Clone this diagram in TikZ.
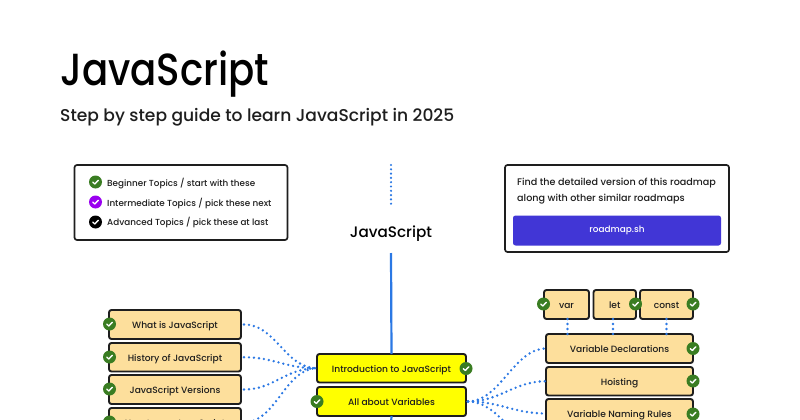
\documentclass[tikz,border=0pt]{standalone}
\usepackage{fontspec}
\setmainfont{Poppins Medium}
\newfontfamily\titlefont[FakeStretch=0.86]{Poppins Medium}
\definecolor{ink}{HTML}{1E1E1E}
\definecolor{peach}{HTML}{FDDF9C}
\definecolor{hilite}{HTML}{FFFF00}
\definecolor{link}{HTML}{2B78E4}
\definecolor{beg}{HTML}{3A7D22}
\definecolor{mid}{HTML}{9A00F0}
\definecolor{btn}{HTML}{4136D6}
\newcommand{\tick}[3]{%
  \node[tickdot,fill=#2] (#1) at (#3) {};
  \draw[tickmark] ([shift={(-2.6,0.2)}]#1.center) -- ([shift={(-0.7,2)}]#1.center) -- ([shift={(2.8,-1.7)}]#1.center);
}
\tikzset{
  tickdot/.style={circle,draw=none,minimum size=13pt,inner sep=0pt},
  tickmark/.style={white,line width=1.4pt,line cap=round,line join=round},
  topic/.style={draw=ink,line width=1.9pt,rounded corners=2.5pt,fill=peach,inner sep=0pt,outer sep=0pt,anchor=north west,font=\fontsize{9.1}{12}\selectfont,text=ink,text height=10pt,text depth=2pt},
  main/.style={topic,fill=hilite},
  panel/.style={draw=ink,line width=1.7pt,rounded corners=2.5pt,fill=white,inner sep=0pt,outer sep=0pt,anchor=north west},
  note/.style={inner sep=0pt,anchor=west,font=\fontsize{8.8}{12}\selectfont,text=ink},
  wide/.style={note,font=\fontsize{9.6}{12}\selectfont},
  dots/.style={draw=link,line width=2.6pt,line cap=round,dash pattern=on 0pt off 5pt},
  solidlink/.style={draw=link,line width=2.2pt},
}
\begin{document}
\begin{tikzpicture}[x=1pt,y=-1pt]
\useasboundingbox (0,0) rectangle (800,420);
\clip (0,0) rectangle (800,420);
\fill[white] (0,0) rectangle (800,420);

\node[inner sep=0pt,anchor=base west,font=\titlefont\fontsize{45}{48}\selectfont,text=black] (title) at (60,85) {JavaScript};
\node[inner sep=0pt,anchor=base west,font=\fontsize{17.1}{20}\selectfont,text=ink] (subtitle) at (60,121) {Step by step guide to learn JavaScript in 2025};

% legend
\node[panel,minimum width=213pt,minimum height=75pt] (legend) at (74.5,165) {};
\node[note] (l1) at (107,183.5) {Beginner Topics / start with these};
\node[note] (l2) at (107,203) {Intermediate Topics / pick these next};
\node[note] (l3) at (107,222.5) {Advanced Topics / pick these at last};
\tick{t1}{beg}{95.5,182}
\tick{t2}{mid}{95.5,202}
\tick{t3}{black}{95.5,222}

% info panel
\node[panel,minimum width=224pt,minimum height=87pt] (info) at (505,165) {};
\node[wide] (i1) at (517,183.5) {Find the detailed version of this roadmap};
\node[wide] (i2) at (517,199) {along with other similar roadmaps};
\node[fill=btn,rounded corners=2.5pt,minimum width=208pt,minimum height=30pt,inner sep=0pt,outer sep=0pt,anchor=north west,text=white,font=\fontsize{8.9}{12}\selectfont] (site) at (513,215.5) {roadmap.sh};

% spine
\coordinate (dtop) at (391,165);
\node[inner sep=0pt,font=\fontsize{15.2}{20}\selectfont,text=black] (root) at (391,233.5) {JavaScript};
\coordinate (dbot) at (391,205);
\coordinate (sbot) at (391,425);
\draw[draw=link,line width=2.4pt,line cap=round,dash pattern=on 0pt off 4.3pt] (dtop) -- (dbot);

% centre
\node[main,minimum width=149pt,minimum height=28.5pt] (intro) at (317,354) {Introduction to JavaScript};
\node[main,minimum width=149pt,minimum height=29pt] (vars) at (317,387) {All about Variables};
\draw[solidlink] (391,253) -- (intro.north);
\draw[solidlink] (vars.south) -- (sbot);

% left column
\node[topic,minimum width=132pt,minimum height=29pt] (what) at (109,310) {What is JavaScript};
\node[topic,minimum width=132pt,minimum height=28.5pt] (hist) at (109,343) {History of JavaScript};
\node[topic,minimum width=132pt,minimum height=29pt] (vers) at (109,375) {JavaScript Versions};
\node[topic,minimum width=132pt,minimum height=29pt] (run) at (109,408) {How to run JavaScript};

% right column
\node[topic,minimum width=45pt,minimum height=29pt] (var) at (544,290) {var};
\node[topic,minimum width=42.5pt,minimum height=29pt] (let) at (593.5,290) {let};
\node[topic,minimum width=53pt,minimum height=29pt] (const) at (640,290) {const};
\node[topic,minimum width=147pt,minimum height=29pt] (decl) at (546,334) {Variable Declarations};
\node[topic,minimum width=147pt,minimum height=28.5pt] (hoist) at (546,367) {Hoisting};
\node[topic,minimum width=147pt,minimum height=29pt] (naming) at (546,399) {Variable Naming Rules};
\coordinate (scopes) at (546,447);

% connectors
\draw[dots] ([xshift=3pt]what.east) .. controls +(32,0) and +(-32,0) .. (intro.west);
\draw[dots] ([xshift=3pt]hist.east) .. controls +(30,0) and +(-32,0) .. (intro.west);
\draw[dots] ([xshift=3pt]vers.east) .. controls +(30,0) and +(-32,0) .. (intro.west);
\draw[dots] ([xshift=3pt]run.east) .. controls +(32,0) and +(-32,0) .. (intro.west);
\draw[dots] ([xshift=2pt]vars.east) .. controls +(32,0) and +(-32,0) .. (decl.west);
\draw[dots] ([xshift=2pt]vars.east) .. controls +(32,0) and +(-32,0) .. (hoist.west);
\draw[dots] ([xshift=2pt]vars.east) .. controls +(32,0) and +(-32,0) .. (naming.west);
\draw[dots] ([xshift=2pt]vars.east) .. controls +(32,0) and +(-32,0) .. (scopes);
\draw[dots] (var.south -| 567.5,0) -- (567.5,334);
\draw[dots] (let.south -| 613,0) -- (613,334);
\draw[dots] (const.south -| 666.5,0) -- (666.5,334);

% checks
\tick{c1}{beg}{109.5,324}
\tick{c2}{beg}{109.5,357}
\tick{c3}{beg}{109.5,389}
\tick{c4}{beg}{109.5,422}
\tick{c5}{beg}{466,368.5}
\tick{c6}{beg}{317,401.5}
\tick{c7}{beg}{543.5,304}
\tick{c8}{beg}{635.5,304}
\tick{c9}{beg}{693,304}
\tick{c10}{beg}{693,348.5}
\tick{c11}{beg}{693,381}
\tick{c12}{beg}{693,414}
\end{tikzpicture}
\end{document}
